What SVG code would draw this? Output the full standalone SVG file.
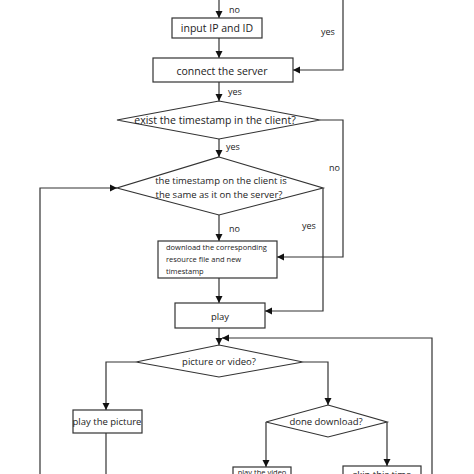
<svg xmlns="http://www.w3.org/2000/svg" width="474" height="474" viewBox="0 0 474 474">
<defs>
<marker id="ah" markerWidth="8" markerHeight="8" refX="7" refY="4" orient="auto" markerUnits="userSpaceOnUse">
<path d="M0,0.5 L7,4 L0,7.5 Z" fill="#111"/>
</marker>
<style>
.n{fill:#fff;stroke:#333;stroke-width:1.2}
.t{font-family:"Open Sans","Liberation Sans",sans-serif;font-size:9.5px;fill:#222;text-anchor:middle;dominant-baseline:central}
.b{font-size:10.5px}
.s{font-family:"Open Sans","Liberation Sans",sans-serif;font-size:7.5px;fill:#222}
.l{font-family:"Open Sans","Liberation Sans",sans-serif;font-size:9px;fill:#222}
.c{fill:none;stroke:#333;stroke-width:1.2;marker-end:url(#ah)}
.p{fill:none;stroke:#333;stroke-width:1.2}
</style>
</defs>
<rect width="474" height="474" fill="#fff"/>
<g id="connectors">
<path class="c" d="M219,0 V18"/>
<path class="c" d="M219,38 V58"/>
<path class="c" d="M343,0 V70 H293"/>
<path class="c" d="M219,82 V101"/>
<path class="c" d="M219,139 V157"/>
<path class="c" d="M320,120 H343 V257 H277"/>
<path class="c" d="M219,215 V241"/>
<path class="c" d="M323,188 V311 H265"/>
<path class="c" d="M219,278 V303"/>
<path class="c" d="M40,474 V188 H117"/>
<path class="c" d="M219,328 V345"/>
<path class="c" d="M432,474 V338 H222"/>
<path class="c" d="M136,362 H106 V410"/>
<path class="p" d="M106,433 V474"/>
<path class="c" d="M303,362 H328 V405"/>
<path class="c" d="M266,422 V467"/>
<path class="c" d="M387,422 V466"/>
<text class="l" x="229" y="13">no</text>
<text class="l" x="321" y="35">yes</text>
<text class="l" x="228" y="95">yes</text>
<text class="l" x="226" y="150">yes</text>
<text class="l" x="329" y="171">no</text>
<text class="l" x="229" y="232">no</text>
<text class="l" x="302" y="229">yes</text>
</g>
<g id="input">
<rect class="n" x="172" y="18" width="90" height="20"/>
<text class="t b" x="217" y="28">input IP and ID</text>
</g>
<g id="connect">
<rect class="n" x="153" y="58" width="140" height="24"/>
<text class="t b" x="222" y="71">connect the server</text>
</g>
<g id="exist">
<polygon class="n" points="219,101 320,120 219,139 117,120"/>
<text class="t b" x="215" y="120">exist the timestamp in the client?</text>
</g>
<g id="same">
<polygon class="n" points="219,157 323,188 219,215 117,188"/>
<text class="t" x="221" y="180">the timestamp on the client is</text>
<text class="t" x="219" y="194">the same as it on the server?</text>
</g>
<g id="download">
<rect class="n" x="158" y="241" width="119" height="37"/>
<text class="s" x="166" y="250">download the corresponding</text>
<text class="s" x="166" y="262">resource file and new</text>
<text class="s" x="166" y="274">timestamp</text>
</g>
<g id="play">
<rect class="n" x="175" y="303" width="90" height="25"/>
<text class="t" x="220" y="316">play</text>
</g>
<g id="picvid">
<polygon class="n" points="219,345 303,362 219,377 136,362"/>
<text class="t" x="219" y="361">picture or video?</text>
</g>
<g id="playpic">
<rect class="n" x="73" y="410" width="69" height="23"/>
<text class="t" x="107" y="421">play the picture</text>
</g>
<g id="done">
<polygon class="n" points="328,405 387,422 328,437 266,422"/>
<text class="t" x="326" y="421">done download?</text>
</g>
<g id="playvid">
<rect class="n" x="233" y="467" width="58" height="20"/>
<text class="s" x="262" y="475" text-anchor="middle">play the video</text>
</g>
<g id="skip">
<rect class="n" x="343" y="466" width="78" height="20"/>
<text class="t" x="382" y="474">skip this time</text>
</g>
</svg>
